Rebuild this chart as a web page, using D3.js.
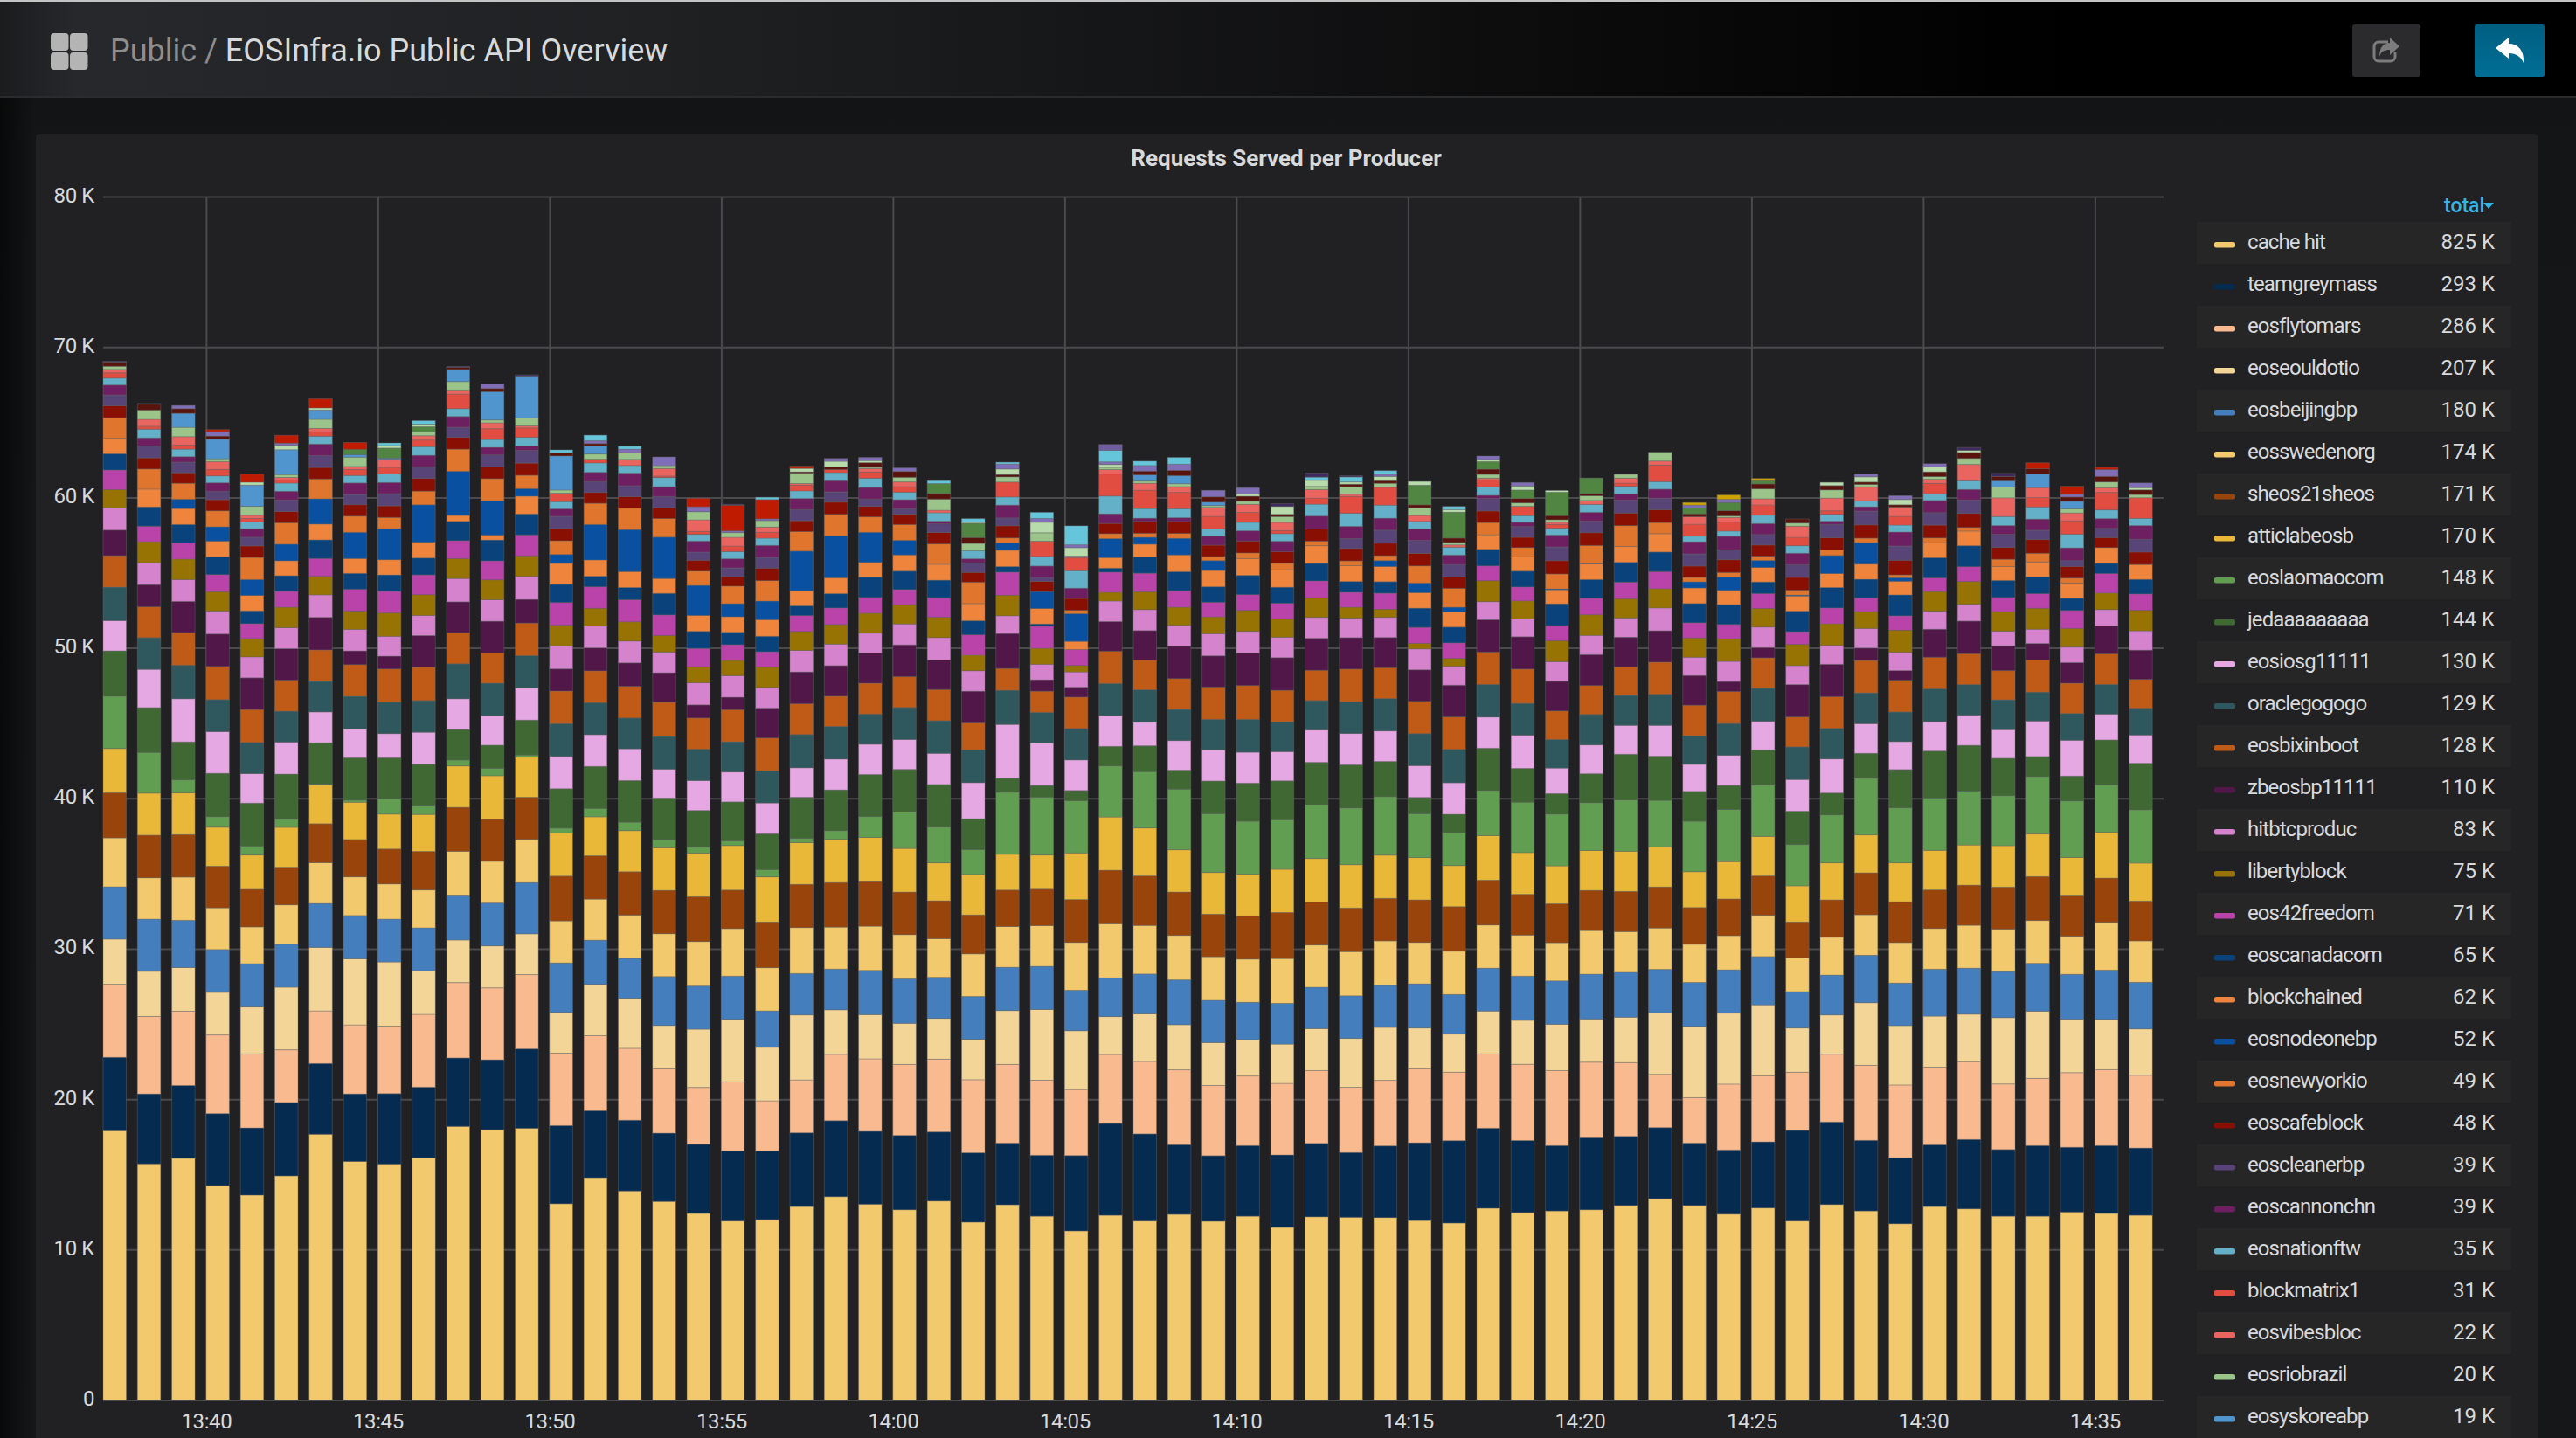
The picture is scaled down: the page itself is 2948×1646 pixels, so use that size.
<!DOCTYPE html>
<html>
<head>
<meta charset="utf-8">
<title>EOSInfra.io Public API Overview</title>
<script src="https://cdn.jsdelivr.net/npm/d3@7"></script>
<style>
  html, body { margin: 0; padding: 0; background: #161719; overflow: hidden; }
  svg { display: block; font-family: Roboto, sans-serif; }
  .axis path { display: none; }
  .axis line { stroke: #4a4a4c; stroke-width: 2; }
  .axis text { fill: #d8d9da; font-size: 24px; font-family: Roboto, sans-serif; letter-spacing: -0.4px; }
</style>
</head>
<body>
<svg id="chart" width="2948" height="1646"></svg>
<script>
// legend rows, in the panel's order (values in K)
const legendNames = ['cache hit', 'teamgreymass', 'eosflytomars', 'eoseouldotio', 'eosbeijingbp', 'eosswedenorg',
  'sheos21sheos', 'atticlabeosb', 'eoslaomaocom', 'jedaaaaaaaaa', 'eosiosg11111', 'oraclegogogo', 'eosbixinboot',
  'zbeosbp11111', 'hitbtcproduc', 'libertyblock', 'eos42freedom', 'eoscanadacom', 'blockchained', 'eosnodeonebp',
  'eosnewyorkio', 'eoscafeblock', 'eoscleanerbp', 'eoscannonchn', 'eosnationftw', 'blockmatrix1', 'eosvibesbloc',
  'eosriobrazil', 'eosyskoreabp'];
const legendTotals = [825, 293, 286, 207, 180, 174, 171, 170, 148, 144, 130, 129, 128, 110, 83, 75, 71, 65, 62, 52,
  49, 48, 39, 39, 35, 31, 22, 20, 19];

const colors = ['#F2C96D', '#052B51', '#F9BA8F', '#F4D598', '#447EBC', '#F2C96D', '#99440A', '#EAB839', '#629E51',
  '#3F6833', '#E5A8E2', '#2F575E', '#BF5B17', '#511749', '#D683CE', '#967302', '#BA43A9', '#0A437C', '#EF843C',
  '#0A50A1', '#E0752D', '#890F02', '#584477', '#6D1F62', '#64B0C8', '#E24D42', '#EA6460', '#9AC48A', '#5195CE',
  // series past the bottom of the legend, names not visible
  '#58140C', '#508642', '#B7DBAB', '#806EB7', '#BF1B00', '#65C5DB', '#3F2B5B', '#705DA0', '#CCA300'];

const yTicks = [0, 10, 20, 30, 40, 50, 60, 70, 80];

// requests per minute in K, one value per minute from 13:37 to 14:36
const cacheHit = [17.9,15.7,16.07,14.26,13.62,14.9,17.67,15.86,15.69,16.1,
  18.19,17.97,18.07,13.05,14.78,13.9,13.2,12.4,11.9,12.0,
  12.86,13.52,13.02,12.65,13.23,11.82,12.98,12.22,11.24,12.28,
  11.9,12.34,11.88,12.22,11.47,12.18,12.15,12.13,11.93,11.76,
  12.75,12.47,12.57,12.65,12.94,13.39,12.94,12.36,12.77,11.9,
  13.0,12.57,11.72,12.86,12.71,12.22,12.22,12.5,12.4,12.28];
const teamgreymass = [4.88,4.65,4.84,4.78,4.47,4.88,4.70,4.49,4.68,4.70,
  4.55,4.65,5.27,5.19,4.45,4.7,4.54,4.6,4.66,4.56,
  4.90,5.05,4.84,4.94,4.59,4.61,4.10,4.05,5.01,6.10,
  5.79,4.63,4.36,4.69,4.82,4.88,4.30,4.76,5.17,5.48,
  5.32,4.78,4.34,4.78,4.59,4.72,4.14,4.26,4.39,6.02,
  5.48,4.69,4.38,4.10,4.61,4.43,4.69,4.30,4.51,4.47];
const eosflytomars = [4.86,5.15,4.94,5.23,4.92,3.50,3.50,4.59,4.49,4.84,
  5.01,4.78,4.94,4.82,4.99,4.78,4.28,3.78,4.59,3.33,
  3.52,4.41,4.82,4.72,4.84,4.86,5.23,4.99,4.39,4.59,
  4.82,4.98,4.67,4.63,4.76,4.84,4.34,4.36,4.92,4.55,
  4.94,5.07,4.99,5.03,4.90,3.54,3.02,4.38,4.39,3.87,
  4.51,4.99,4.84,5.17,5.17,4.36,4.47,4.96,5.05,4.84];
const eoseouldotio = [3.00,3.00,2.90,2.83,3.12,4.16,4.22,4.39,4.26,2.90,
  2.83,2.79,2.71,2.71,3.41,3.33,2.88,3.87,4.16,3.56,
  4.32,2.96,2.94,2.73,2.71,2.69,3.58,4.70,3.91,2.52,
  3.16,3.00,2.85,2.42,2.61,2.79,3.25,3.52,2.71,2.54,
  2.85,2.92,3.08,2.87,3.02,4.10,4.74,4.72,4.72,2.94,
  2.61,4.16,3.95,3.39,3.16,4.41,4.47,3.56,3.35,3.08];
const eosbeijingbp = [3.48,3.47,3.14,2.85,2.88,2.87,2.92,2.88,2.85,2.85,
  2.94,2.85,3.41,3.29,2.94,2.65,3.25,2.87,2.87,2.42,
  2.75,2.71,2.94,2.96,2.73,2.85,2.88,2.87,2.69,2.57,
  2.65,2.98,2.81,2.48,2.71,2.75,2.83,2.79,2.94,2.63,
  2.85,2.94,2.88,2.98,2.98,2.88,2.92,2.88,3.21,2.42,
  2.65,3.16,2.83,3.12,3.06,3.06,3.18,2.98,3.27,3.10];
const eosswedenorg = [3.25,2.75,2.87,2.77,2.44,2.61,2.71,2.57,2.34,2.52,
  2.96,2.77,2.88,2.79,2.73,2.88,2.85,2.96,3.16,2.87,
  3.06,2.79,2.94,2.94,2.57,2.83,2.71,2.71,3.18,3.60,
  3.23,2.96,2.90,2.87,2.98,2.81,2.94,2.96,2.75,2.88,
  2.87,2.73,2.54,2.90,2.71,2.75,2.54,2.27,2.75,2.25,
  2.52,2.69,2.69,2.71,2.85,2.83,2.85,2.54,3.18,2.75];
const sheos21sheos = [3.00,2.83,2.83,2.77,2.50,2.50,2.59,2.48,2.32,2.56,
  2.92,2.79,2.79,2.98,2.88,2.88,2.88,2.98,2.56,3.04,
  2.87,2.96,2.96,2.83,2.52,2.59,2.42,2.42,2.85,3.56,
  3.29,2.88,2.83,2.87,3.06,2.85,2.90,2.83,2.83,2.96,
  2.98,2.71,2.59,2.67,2.67,2.73,2.44,2.44,2.61,2.38,
  2.48,2.79,2.71,2.56,2.67,2.79,2.92,2.67,2.94,2.65];
const atticlabeosb = [2.94,2.79,2.77,2.59,2.28,2.65,2.59,2.48,2.32,2.46,
  2.75,2.90,2.67,2.87,2.59,2.73,2.83,2.90,2.96,3.00,
  2.77,2.87,2.94,2.90,2.52,2.69,2.38,2.27,3.10,3.54,
  3.19,2.81,2.77,2.77,2.87,2.90,2.88,2.87,2.81,2.73,
  2.96,2.77,2.52,2.65,2.67,2.67,2.38,2.48,2.63,2.40,
  2.46,2.52,2.59,2.63,2.67,2.75,2.83,2.56,3.04,2.52];
const eoslaomaocom = [3.47,2.71,.87,.70,.60,.54,.04,.14,1.03,.56,
  .39,.50,.14,.31,.56,.56,.54,.39,.31,.48,
  .29,.58,1.39,2.42,2.38,1.65,4.12,3.85,3.47,3.39,
  3.74,4.03,3.91,3.52,3.29,3.58,3.76,3.89,2.92,2.19,
  3.00,3.35,3.43,3.18,3.41,3.08,3.35,3.47,3.41,2.75,
  3.19,3.76,3.66,3.48,3.58,3.33,3.81,3.76,3.16,3.54];
const jedaaaaaaaaa = [3.02,2.98,2.52,2.88,2.85,3.00,2.75,2.81,2.71,2.77,
  2.03,1.53,2.32,2.63,2.79,2.77,2.77,2.44,2.59,2.38,
  2.73,2.71,2.79,2.83,2.83,2.05,.93,.77,.68,1.30,
  1.72,1.26,2.17,2.54,2.59,2.81,2.87,2.34,1.08,1.22,
  2.81,2.25,1.37,1.92,3.04,2.94,1.99,1.59,2.34,2.21,
  1.45,1.66,2.54,3.12,3.04,2.48,1.34,1.65,2.98,3.10];
const eosiosg11111 = [2.01,2.54,2.87,2.77,1.96,2.13,2.05,1.92,1.61,2.13,
  2.05,1.97,2.13,2.15,2.11,2.11,1.92,1.99,1.99,2.05,
  1.96,2.05,2.01,1.99,2.07,2.40,3.58,2.83,2.03,2.05,
  1.57,1.97,2.07,2.05,1.94,2.15,2.09,2.03,2.11,2.09,
  2.07,2.21,1.70,1.92,1.92,2.05,1.80,2.01,1.90,2.11,
  2.27,1.97,1.86,1.96,2.01,1.90,2.36,2.38,1.72,1.88];
const oraclegogogo = [2.23,2.11,2.23,2.13,2.07,2.05,2.03,2.17,2.09,2.11,
  2.32,2.15,2.15,2.17,2.13,2.05,2.17,2.09,2.01,2.15,
  2.21,2.17,2.01,2.13,2.17,2.19,2.27,2.03,2.09,2.13,
  2.15,2.07,2.03,2.19,1.99,1.96,2.11,2.15,2.13,2.23,
  2.17,2.11,1.90,2.03,1.99,2.07,1.90,2.11,2.19,2.17,
  2.03,2.05,1.97,2.17,2.03,1.99,1.92,1.78,1.97,1.78];
const eosbixinboot = [2.09,2.05,2.17,2.21,2.19,2.07,2.09,2.11,2.21,2.21,
  2.07,2.01,2.17,2.17,2.11,2.11,2.27,2.07,2.13,2.17,
  2.05,2.01,2.05,2.05,2.07,1.78,1.45,1.41,2.09,2.15,
  1.97,2.05,2.15,2.25,2.09,2.01,2.17,2.05,2.15,2.15,
  2.15,2.28,1.90,1.92,1.90,2.13,2.03,2.13,2.03,1.99,
  2.11,2.15,2.11,2.11,2.05,1.94,2.13,2.01,2.03,1.92];
const zbeosbp11111 = [1.70,1.47,2.07,2.15,2.11,2.09,2.17,.91,.85,2.11,
  2.05,2.11,1.57,1.47,1.53,1.55,1.97,.87,.83,1.99,
  2.11,2.03,2.01,2.11,1.96,2.11,2.32,.76,.66,1.97,
  1.97,2.15,2.07,2.15,2.17,2.13,2.09,2.01,2.09,2.11,
  2.15,2.15,1.97,2.05,1.97,2.09,1.97,.66,.68,2.15,
  2.15,.83,.64,1.86,2.17,1.65,1.10,1.37,1.86,1.94];
const hitbtcproduc = [1.49,1.45,1.45,1.53,1.39,1.39,1.49,1.43,1.32,1.34,
  1.55,1.43,1.53,1.55,1.45,1.45,1.37,1.47,1.43,1.37,
  1.43,1.43,1.32,1.39,1.49,1.36,1.18,1.03,1.01,1.36,
  1.39,1.39,1.47,1.45,1.36,1.39,1.30,1.34,1.39,1.26,
  1.20,1.18,1.30,1.28,1.28,1.51,1.22,1.34,1.36,1.26,
  1.26,1.30,1.22,1.20,1.12,.97,.95,1.03,1.08,1.28];
const libertyblock = [1.20,1.41,1.36,1.28,1.22,1.36,1.24,1.22,1.55,1.37,
  1.32,1.32,1.37,1.36,1.18,1.28,1.10,1.06,1.01,1.34,
  1.26,1.30,1.32,1.28,1.36,1.03,1.37,1.06,.43,.58,
  1.18,1.20,1.12,1.39,1.20,1.28,.72,.54,.37,.52,
  1.39,1.20,1.39,1.37,1.26,1.28,1.28,1.51,1.24,1.41,
  1.43,1.12,1.47,1.30,1.51,1.30,1.39,1.24,1.10,1.37];
const eos42freedom = [1.30,1.03,1.08,1.14,.99,1.05,1.18,1.45,1.43,1.32,
  1.20,1.26,1.39,1.51,1.43,1.47,1.37,1.22,1.05,1.03,
  1.06,1.10,1.06,1.01,1.30,1.36,1.53,1.47,1.06,1.34,
  1.24,1.10,.97,1.05,1.06,1.14,.99,1.06,1.06,1.03,
  .99,.93,1.01,1.10,1.12,1.14,1.01,.95,.99,.85,
  1.05,.91,.95,.91,.99,.95,.97,1.20,1.30,1.08];
const eoscanadacom = [1.08,1.28,1.22,1.18,.85,1.05,1.24,1.05,1.10,1.12,
  1.28,1.39,1.39,1.20,.70,.81,1.43,1.14,.83,1.03,
  .64,.95,1.34,1.22,1.16,.93,.37,.15,0,.27,
  1.08,1.26,1.03,1.28,1.06,1.16,.72,.77,1.28,1.05,
  1.10,1.05,1.45,1.24,1.32,1.30,1.28,1.32,.77,1.36,
  1.36,1.24,1.39,1.34,1.39,1.12,1.12,.81,.68,.97];
const blockchained = [1.03,1.18,1.06,1.05,1.03,.99,1.05,.99,1.01,1.06,
  .39,.33,1.18,1.39,1.08,1.06,.99,1.06,1.03,1.10,
  1.01,1.06,.99,1.08,1.05,1.14,1.08,1.03,.54,.70,
  .85,1.12,1.08,1.12,1.16,1.18,1.06,1.01,1.03,1.01,
  .97,.95,.93,1.05,1.05,1.22,1.03,.95,.97,1.01,
  .93,1.01,.91,.99,.97,.93,.99,1.01,1.05,.99];
const eosnodeonebp = [0,0,.62,.95,1.05,1.10,1.68,1.74,2.07,2.48,
  2.94,2.28,.50,.60,2.36,2.79,2.75,1.99,.87,1.24,
  2.63,2.79,1.99,.97,0,0,.50,1.12,1.84,1.26,
  .46,1.10,.66,0,0,0,0,.39,.64,.31,
  0,0,.06,.04,0,0,.41,.87,.46,.06,
  1.20,1.43,.23,0,0,0,0,0,0,0];
const eosnewyorkio = [1.37,1.34,1.06,1.06,1.47,1.43,1.32,1.08,.74,.91,
  1.47,1.47,.89,.91,1.41,1.43,1.24,.95,1.16,1.36,
  1.30,1.43,1.03,1.05,1.36,1.43,.33,0,.23,.33,
  .27,.33,.27,.37,.43,.31,.31,.33,1.14,1.26,
  .81,.62,.99,1.18,1.39,.74,.29,.31,.29,.33,
  .37,.29,.19,.33,.25,.48,.58,.33,0,0];
const eoscafeblock = [.79,.74,.70,.74,.77,.74,.76,.76,.77,.85,
  .79,.79,.81,.81,.72,.76,.72,.72,.64,.83,
  .72,.81,.70,.68,.76,.64,.81,.68,.79,.68,
  .79,.79,.76,.79,.77,.81,.83,.83,.83,.76,
  .77,.68,.89,.85,.83,.85,.76,.85,.74,.85,
  .81,.89,.97,.85,.93,.79,.91,.77,.66,.83];
const eoscleanerbp = [.72,.79,.70,.56,.58,.77,.79,.68,.81,.76,
  .66,.79,.85,.81,.72,.72,.74,.54,.58,.72,
  .74,.68,.48,.37,.58,.64,.52,.25,0,0,
  0,0,0,0,0,0,.66,.87,.87,.81,
  .83,.72,.91,.77,.87,.77,.81,.66,.70,.83,
  .89,.91,.95,.83,.89,.87,.62,.39,.62,.85];
const eoscannonchn = [.66,.54,.37,.56,.56,.58,.77,.76,.74,.77,
  .72,.50,.29,.50,.62,.85,.66,.74,.60,.79,
  .74,.74,.77,.60,.17,.27,.85,.77,.68,.64,
  .21,.25,.60,.68,.70,.85,.81,.79,.76,.64,
  .21,.27,.79,.58,.41,.60,.81,.89,.72,.77,
  .21,.29,.93,.81,.70,.58,.74,.85,.64,.91];
const eosnationftw = [.46,.58,.50,.46,.45,.54,.52,.50,.58,.58,
  .52,.52,.58,.48,.62,.50,.60,.45,.48,.48,
  .50,.54,.62,.50,.56,.54,.54,.64,1.16,1.18,
  .64,.60,.48,.56,.50,.79,.87,.87,.50,.52,
  .56,.45,.46,.52,.50,.50,.37,.35,.56,.50,
  .46,.39,.46,.45,.58,.60,.81,.91,.58,.48];
const blockmatrix1 = [.35,.19,.27,.43,.23,.21,.29,.39,.43,.43,
  .97,.72,.62,.56,.25,0,.10,.19,.37,.39,
  .39,.21,.41,.37,0,0,.99,1.01,.85,1.47,
  1.22,1.08,.83,.66,.21,.41,1.12,1.18,0,0,
  .48,.62,.25,0,.21,1.10,.79,.60,.68,.56,
  .23,0,.58,.68,0,0,.62,.89,1.16,1.37];
const eosvibesbloc = [.23,.46,.56,.52,.21,.17,.23,.21,.54,.29,
  .27,.39,.14,0,0,.41,.50,.77,.58,.35,
  .10,0,.23,.31,.17,0,0,0,.12,.29,
  .46,.39,.60,.54,.54,.56,.14,0,.39,.15,
  .10,0,.14,.27,.33,.27,.50,.31,.41,.74,
  .85,.93,.62,.27,1.08,1.24,.66,.52,.31,0];
const eosriobrazil = [.21,.62,.62,.19,.60,.19,.60,.62,0,.25,
  .56,.19,.52,.21,.35,.45,.19,.54,.31,.43,
  .70,0,.08,.31,.74,.48,.35,.56,0,.15,
  .15,.19,.12,.21,.39,.21,.50,.27,.52,.17,
  .25,.23,.17,.31,.25,.58,0,.10,.66,.21,
  .54,.17,0,.19,.41,.72,0,.27,.39,.21];
const eosyskoreabp = [0,0,.93,1.30,1.41,1.65,.62,.17,.08,0,
  .81,1.88,2.79,2.27,.54,0,0,0,0,0,
  0,0,0,0,0,0,0,0,0,0,
  .41,.54,.23,0,0,0,0,0,0,0,
  0,0,0,0,0,0,0,0,0,0,
  0,0,0,0,0,.41,.91,.50,0,0];
// the rest of the stack: legend rows below the fold
const hiddenMaroon = [.27,.39,.31,.21,0,0,0,0,0,0,
  .14,.21,0,.21,.15,0,0,0,0,0,
  .08,.17,.31,.39,.37,.39,.15,0,0,0,
  .25,.35,.35,.33,.15,0,.17,.17,.19,.29,
  .35,.29,.27,.15,0,0,.19,.35,.33,.27,
  .29,.15,.15,.31,.39,.29,.35,.29,.37,.31];
const hiddenGreen = [0,0,0,0,0,0,0,.35,.66,.35,
  0,0,0,0,0,0,0,0,0,0,
  0,0,0,0,.66,.95,0,0,0,0,
  0,0,0,0,0,0,0,0,1.30,1.72,
  .50,.56,1.55,1.03,0,0,.41,.54,.21,0,
  0,0,0,0,0,0,0,0,0,0];
const hiddenPale = [0,0,0,0,.19,.29,.14,0,.17,.17,
  0,0,0,0,0,0,0,0,0,0,
  .23,.37,.14,0,0,.06,.37,.70,.56,.19,
  0,0,0,.15,.52,.41,.15,.29,.25,.17,
  .14,.27,.12,0,0,0,0,0,0,0,
  .21,.35,.35,.33,.14,0,0,0,0,.15];
const hiddenPurple = [0,0,.21,.29,0,.15,0,0,0,0,
  0,.29,0,0,.19,.23,.58,.33,.12,.12,
  0,.19,.21,.23,0,0,.33,.25,.19,.17,
  .37,.41,.43,.41,0,0,0,.15,0,0,
  .23,.23,0,0,0,0,.17,.21,0,0,
  0,.19,.25,.21,0,0,0,.17,.45,.31];
const hiddenRed = [0,0,0,.14,.54,.52,.60,.45,0,0,
  0,0,0,0,0,0,0,.56,1.70,1.28,
  .15,0,0,0,0,0,0,0,0,0,
  0,0,0,0,0,0,0,0,0,0,
  0,0,0,0,0,0,0,0,0,0,
  0,0,0,0,0,0,.39,.54,.15,0];
const hiddenCyan = [0,0,0,0,0,0,0,0,.17,.23,
  0,0,0,.19,.37,.19,0,0,0,.15,
  0,0,0,0,.19,.25,.12,.41,1.26,.77,
  .29,.45,0,0,0,.21,.33,.23,0,.21,
  0,0,0,0,0,0,0,0,0,0,
  0,0,0,0,0,0,0,0,0,0];
const hiddenDark = [.06,.04,0,0,0,0,0,0,0,0,
  .06,0,.08,0,0,0,0,0,.06,0,
  0,0,0,0,0,0,0,0,0,0,
  0,0,0,0,.19,.27,.08,0,0,0,
  0,0,0,0,0,0,0,0,0,0,
  0,0,0,0,.19,.21,0,0,0,0];
const hiddenViolet = [0,0,0,0,0,0,0,0,0,0,
  0,0,0,0,0,0,0,0,0,0,
  0,0,0,0,0,0,0,0,0,.39,
  0,0,0,0,0,0,0,0,0,0,
  0,0,0,0,0,0,0,0,0,0,
  0,0,0,0,0,0,0,0,0,0];
const hiddenGold = [0,0,0,0,0,0,0,0,0,0,
  0,0,0,0,0,0,0,0,0,0,
  0,0,0,0,0,0,0,0,0,0,
  0,0,0,0,0,0,0,0,0,0,
  0,0,0,0,0,0,.17,.29,.15,0,
  0,0,0,0,0,0,0,0,0,0];

const allSeries = [cacheHit, teamgreymass, eosflytomars, eoseouldotio, eosbeijingbp, eosswedenorg, sheos21sheos,
  atticlabeosb, eoslaomaocom, jedaaaaaaaaa, eosiosg11111, oraclegogogo, eosbixinboot, zbeosbp11111, hitbtcproduc,
  libertyblock, eos42freedom, eoscanadacom, blockchained, eosnodeonebp, eosnewyorkio, eoscafeblock, eoscleanerbp,
  eoscannonchn, eosnationftw, blockmatrix1, eosvibesbloc, eosriobrazil, eosyskoreabp, hiddenMaroon, hiddenGreen,
  hiddenPale, hiddenPurple, hiddenRed, hiddenCyan, hiddenDark, hiddenViolet, hiddenGold];

const startTime = Date.UTC(2018, 6, 1, 13, 37);
const endTime = Date.UTC(2018, 6, 1, 14, 37);
const minutes = d3.utcMinute.range(new Date(startTime), new Date(endTime));

let table = minutes.map((t, i) => {
  let row = { time: t };
  allSeries.forEach((s, k) => { row[k] = s[i]; });
  return row;
});

const svg = d3.select('#chart');

// page chrome
let defs = svg.append('defs');
let headGrad = defs.append('linearGradient').attr('id', 'headGrad');
headGrad.append('stop').attr('offset', '0').attr('stop-color', '#1b1c1e');
headGrad.append('stop').attr('offset', '0.03').attr('stop-color', '#26282b');
headGrad.append('stop').attr('offset', '0.25').attr('stop-color', '#202123');
headGrad.append('stop').attr('offset', '0.6').attr('stop-color', '#0c0c0d');
headGrad.append('stop').attr('offset', '0.8').attr('stop-color', '#000');
let pageGrad = defs.append('linearGradient').attr('id', 'pageGrad').attr('x2', 0).attr('y2', 1);
pageGrad.append('stop').attr('offset', '0').attr('stop-color', '#101112');
pageGrad.append('stop').attr('offset', '0.1').attr('stop-color', '#141517');
pageGrad.append('stop').attr('offset', '1').attr('stop-color', '#161719');
let leftGrad = defs.append('linearGradient').attr('id', 'leftGrad');
leftGrad.append('stop').attr('offset', '0').attr('stop-color', '#000').attr('stop-opacity', 0.6);
leftGrad.append('stop').attr('offset', '1').attr('stop-color', '#000').attr('stop-opacity', 0);
let backGrad = defs.append('linearGradient').attr('id', 'backGrad').attr('x2', 0).attr('y2', 1);
backGrad.append('stop').attr('offset', '0').attr('stop-color', '#005f81');
backGrad.append('stop').attr('offset', '1').attr('stop-color', '#006e95');

svg.append('rect').attr('width', 2948).attr('height', 1646).attr('fill', 'url(#pageGrad)');
svg.append('rect').attr('width', 40).attr('height', 1646).attr('fill', 'url(#leftGrad)');
svg.append('rect').attr('width', 2948).attr('height', 111).attr('fill', 'url(#headGrad)');
svg.append('rect').attr('y', 110).attr('width', 2948).attr('height', 2).attr('fill', '#2a2b2d');
svg.append('rect').attr('width', 2948).attr('height', 2).attr('fill', '#c4c4c4');
svg.append('rect').attr('x', 41).attr('y', 153).attr('width', 2863).attr('height', 1500).attr('rx', 4).attr('fill', '#212124');

// dashboard icon
[[58, 38], [80, 38], [58, 60], [80, 60]].forEach(([x, y]) => {
  svg.append('rect').attr('x', x).attr('y', y).attr('width', 20.5).attr('height', 20)
    .attr('rx', 4).attr('fill', '#b4b4b4');
});

let crumb = svg.append('text').attr('x', 126).attr('y', 70).attr('font-size', 36);
crumb.append('tspan').attr('fill', '#8e8e8e').text('Public / ');
crumb.append('tspan').attr('fill', '#d8d9da').text('EOSInfra.io Public API Overview');

// share + back buttons
svg.append('rect').attr('x', 2692).attr('y', 28).attr('width', 78).attr('height', 60).attr('rx', 3).attr('fill', '#2b2b2d');
svg.append('path')
  .attr('d', 'M2733 48h-11a5 5 0 0 0-5 5v12a5 5 0 0 0 5 5h14a5 5 0 0 0 5-5v-5')
  .attr('fill', 'none').attr('stroke', '#7c7c7c').attr('stroke-width', 3);
svg.append('path')
  .attr('d', 'M2735 43l11 10-11 10v-6c-7 0-10 2-12 8 0-10 4-16 12-16z')
  .attr('fill', '#7c7c7c');
svg.append('rect').attr('x', 2832).attr('y', 28).attr('width', 80).attr('height', 60).attr('rx', 3).attr('fill', 'url(#backGrad)');
svg.append('path')
  .attr('d', 'M2856 55l15-12v7c11 0 18 8 17 22-3-7-8-11-17-11v6z')
  .attr('fill', '#fff');

svg.append('text').attr('x', 1472).attr('y', 190).attr('text-anchor', 'middle')
  .attr('font-size', 26).attr('font-weight', 700).attr('fill', '#d8d9da')
  .text('Requests Served per Producer');

// scales
const x = d3.scaleUtc().domain([startTime, endTime]).range([118, 2476]);
const y = d3.scaleLinear().domain([0, 80]).range([1602.5, 225]);
const barWidth = 26.5;

// grid and axes
let yAxisG = svg.append('g').attr('class', 'axis')
  .attr('transform', 'translate(118,0)')
  .call(d3.axisLeft(y).tickValues(yTicks).tickSize(-2358).tickPadding(10)
    .tickFormat(d => d === 0 ? '0' : `${d} K`));
yAxisG.selectAll('text').attr('dy', '0.25em');

svg.append('g').attr('class', 'axis')
  .attr('transform', 'translate(0,1602.5)')
  .call(d3.axisBottom(x).ticks(d3.utcMinute.every(5)).tickSize(-1377.5).tickPadding(15)
    .tickFormat(d3.utcFormat('%H:%M')));

// stacked bars
const stack = d3.stack().keys(allSeries.map((s, k) => k));
let layers = stack(table);

svg.append('g').selectAll('g')
  .data(layers)
  .join('g')
  .attr('fill', (d, i) => colors[i])
  .selectAll('rect')
  .data(d => d.filter(p => p[1] > p[0]))
  .join('rect')
  .attr('x', d => x(d.data.time))
  .attr('y', d => y(d[1]))
  .attr('width', barWidth)
  .attr('height', d => y(d[0]) - y(d[1]))
  .attr('stroke', 'rgba(110,110,110,0.4)')
  .attr('stroke-width', 1);

// legend table
svg.append('text').attr('x', 2797).attr('y', 243).attr('font-size', 23).attr('font-weight', 500)
  .attr('fill', '#33b5e5').text('total');
svg.append('path').attr('d', 'M2842 232h12l-6 7z').attr('fill', '#33b5e5');

const rowY = d3.scaleBand().domain(legendNames).range([254, 254 + 48 * legendNames.length]);

let rows = svg.append('g').selectAll('g')
  .data(legendNames)
  .join('g')
  .attr('transform', d => `translate(0,${rowY(d)})`);

rows.filter((d, i) => i % 2 === 0).append('rect')
  .attr('x', 2514).attr('width', 360).attr('height', 48).attr('fill', '#262627');

rows.append('rect')
  .attr('x', 2534).attr('y', 23).attr('width', 24).attr('height', 6.5).attr('rx', 2)
  .attr('fill', (d, i) => colors[i]);

rows.append('text')
  .attr('x', 2572).attr('y', 31).attr('font-size', 24).attr('letter-spacing', -0.9).attr('fill', '#d8d9da')
  .text(d => d);

rows.append('text')
  .attr('x', 2855).attr('y', 31).attr('font-size', 24).attr('text-anchor', 'end').attr('fill', '#d8d9da')
  .text((d, i) => `${legendTotals[i]} K`);
</script>
</body>
</html>
